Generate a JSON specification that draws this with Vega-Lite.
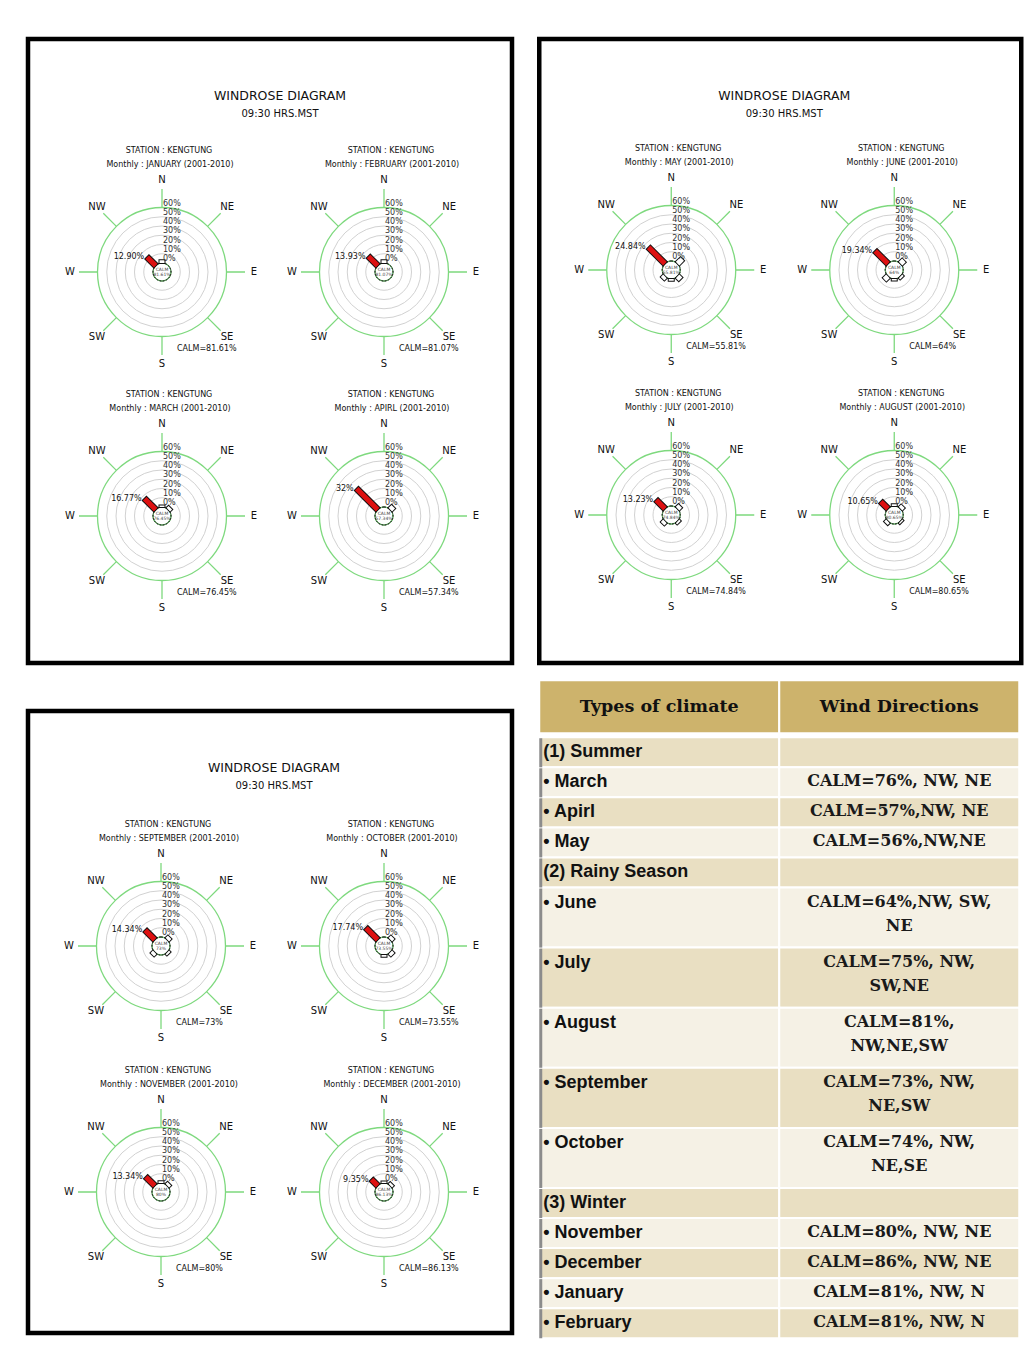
{
"$schema": "https://vega.github.io/schema/vega-lite/v6.json",
"padding": {"left": 25, "top": 36, "right": 0, "bottom": 0},
"background": "white",
"config": {"view": {"stroke": null}, "font": "DejaVu Sans"},
"datasets": {
"compass": [{"dir":"N","angle":0},{"dir":"NE","angle":45},{"dir":"E","angle":90},{"dir":"SE","angle":135},{"dir":"S","angle":180},{"dir":"SW","angle":225},{"dir":"W","angle":270},{"dir":"NW","angle":315}],
"roses": [
{"panel":1,"month":"JANUARY","title":"Monthly : JANUARY (2001-2010)","calm":"81.61%","calm_label":"CALM=81.61%","nw_label":"12.90%","N":0.03,"NE":0,"E":0,"SE":0,"S":0,"SW":0,"W":0,"NW":0.129,"rings":[0,0.1,0.2,0.3,0.4,0.5,0.6]},
{"panel":1,"month":"FEBRUARY","title":"Monthly : FEBRUARY (2001-2010)","calm":"81.07%","calm_label":"CALM=81.07%","nw_label":"13.93%","N":0.03,"NE":0,"E":0,"SE":0,"S":0,"SW":0,"W":0,"NW":0.1393,"rings":[0,0.1,0.2,0.3,0.4,0.5,0.6]},
{"panel":1,"month":"MARCH","title":"Monthly : MARCH (2001-2010)","calm":"76.45%","calm_label":"CALM=76.45%","nw_label":"16.77%","N":0.015,"NE":0.03,"E":0,"SE":0,"S":0,"SW":0,"W":0,"NW":0.1677,"rings":[0,0.1,0.2,0.3,0.4,0.5,0.6]},
{"panel":1,"month":"APRIL","title":"Monthly : APIRL (2001-2010)","calm":"57.34%","calm_label":"CALM=57.34%","nw_label":"32%","N":0,"NE":0.045,"E":0,"SE":0,"S":0,"SW":0,"W":0,"NW":0.32,"rings":[0,0.1,0.2,0.3,0.4,0.5,0.6]},
{"panel":2,"month":"MAY","title":"Monthly : MAY (2001-2010)","calm":"55.81%","calm_label":"CALM=55.81%","nw_label":"24.84%","N":0,"NE":0.07,"E":0,"SE":0.045,"S":0.02,"SW":0.035,"W":0,"NW":0.2484,"rings":[0,0.1,0.2,0.3,0.4,0.5,0.6]},
{"panel":2,"month":"JUNE","title":"Monthly : JUNE (2001-2010)","calm":"64%","calm_label":"CALM=64%","nw_label":"19.34%","N":0,"NE":0.05,"E":0,"SE":0.02,"S":0.015,"SW":0.05,"W":0,"NW":0.1934,"rings":[0,0.1,0.2,0.3,0.4,0.5,0.6]},
{"panel":2,"month":"JULY","title":"Monthly : JULY (2001-2010)","calm":"74.84%","calm_label":"CALM=74.84%","nw_label":"13.23%","N":0,"NE":0.04,"E":0,"SE":0.02,"S":0,"SW":0.035,"W":0,"NW":0.1323,"rings":[0,0.1,0.2,0.3,0.4,0.5,0.6]},
{"panel":2,"month":"AUGUST","title":"Monthly : AUGUST (2001-2010)","calm":"80.65%","calm_label":"CALM=80.65%","nw_label":"10.65%","N":0.02,"NE":0.035,"E":0,"SE":0.015,"S":0,"SW":0.03,"W":0,"NW":0.1065,"rings":[0,0.1,0.2,0.3,0.4,0.5,0.6]},
{"panel":3,"month":"SEPTEMBER","title":"Monthly : SEPTEMBER (2001-2010)","calm":"73%","calm_label":"CALM=73%","nw_label":"14.34%","N":0,"NE":0.035,"E":0,"SE":0.02,"S":0,"SW":0.035,"W":0,"NW":0.1434,"rings":[0,0.1,0.2,0.3,0.4,0.5,0.6]},
{"panel":3,"month":"OCTOBER","title":"Monthly : OCTOBER (2001-2010)","calm":"73.55%","calm_label":"CALM=73.55%","nw_label":"17.74%","N":0,"NE":0.035,"E":0,"SE":0.035,"S":0.02,"SW":0,"W":0,"NW":0.1774,"rings":[0,0.1,0.2,0.3,0.4,0.5,0.6]},
{"panel":3,"month":"NOVEMBER","title":"Monthly : NOVEMBER (2001-2010)","calm":"80%","calm_label":"CALM=80%","nw_label":"13.34%","N":0.02,"NE":0.03,"E":0,"SE":0,"S":0,"SW":0,"W":0,"NW":0.1334,"rings":[0,0.1,0.2,0.3,0.4,0.5,0.6]},
{"panel":3,"month":"DECEMBER","title":"Monthly : DECEMBER (2001-2010)","calm":"86.13%","calm_label":"CALM=86.13%","nw_label":"9.35%","N":0.015,"NE":0.025,"E":0,"SE":0,"S":0,"SW":0,"W":0,"NW":0.0935,"rings":[0,0.1,0.2,0.3,0.4,0.5,0.6]}
],
"table_header": [{"column":"climate","label":"Types of climate"},{"column":"wind","label":"Wind Directions"}],
"table": [
{"row":1,"climate":"(1) Summer","wind":"","lines":1},
{"row":2,"climate":"• March","wind":"CALM=76%, NW, NE","lines":1},
{"row":3,"climate":"• Apirl","wind":"CALM=57%,NW, NE","lines":1},
{"row":4,"climate":"• May","wind":"CALM=56%,NW,NE","lines":1},
{"row":5,"climate":"(2) Rainy Season","wind":"","lines":1},
{"row":6,"climate":"• June","wind":["CALM=64%,NW, SW,","NE"],"lines":2},
{"row":7,"climate":"• July","wind":["CALM=75%, NW,","SW,NE"],"lines":2},
{"row":8,"climate":"• August","wind":["CALM=81%,","NW,NE,SW"],"lines":2},
{"row":9,"climate":"• September","wind":["CALM=73%, NW,","NE,SW"],"lines":2},
{"row":10,"climate":"• October","wind":["CALM=74%, NW,","NE,SE"],"lines":2},
{"row":11,"climate":"(3) Winter","wind":"","lines":1},
{"row":12,"climate":"• November","wind":"CALM=80%, NW, NE","lines":1},
{"row":13,"climate":"• December","wind":"CALM=86%, NW, NE","lines":1},
{"row":14,"climate":"• January","wind":"CALM=81%, NW, N","lines":1},
{"row":15,"climate":"• February","wind":"CALM=81%, NW, N","lines":1}
]
},
"spacing": 21.25,
"hconcat": [
{"vconcat": [
{
"width": 484, "height": 624,
"view": {"stroke": "black", "strokeWidth": 4.5},
"title": {"text": "WINDROSE DIAGRAM", "subtitle": "09:30 HRS.MST", "anchor": "middle", "offset": -80, "dx": 10, "font": "DejaVu Sans", "fontSize": 12.5, "fontWeight": "normal", "color": "#111", "subtitleFont": "DejaVu Sans", "subtitleFontSize": 10, "subtitleColor": "#111", "subtitlePadding": 7},
"data": {"name": "roses"},
"transform": [{"filter": "datum.panel === 1"}],
"resolve": {"scale": {"x": "independent", "y": "independent"}},
"layer": [
{"transform": [{"filter": {"field": "month", "oneOf": ["JANUARY","FEBRUARY"]}}],
"encoding": {"x": {"field": "month", "type": "nominal", "axis": null, "scale": {"type": "point", "padding": 0, "domain": ["JANUARY","FEBRUARY"], "range": [134, 356]}}, "y": {"field": "month", "type": "nominal", "axis": null, "scale": {"type": "point", "padding": 0, "domain": ["JANUARY","FEBRUARY"], "range": [233, 233]}}},
"layer": [
{"transform": [{"flatten": ["rings"], "as": ["ring"]}, {"filter": "datum.ring > 0 && datum.ring < 0.6"}], "mark": {"type": "arc", "filled": false, "stroke": "#cccccc", "strokeWidth": 0.9, "theta": 0, "theta2": 6.2832}, "encoding": {"radius": {"field": "ring", "type": "quantitative", "stack": null, "scale": {"type": "linear", "domain": [0, 0.6], "range": [9, 64.5]}}}},
{"transform": [{"flatten": ["rings"], "as": ["ring"]}, {"filter": "datum.ring === 0.6"}], "mark": {"type": "arc", "filled": false, "stroke": "#7ed97e", "strokeWidth": 1.3, "theta": 0, "theta2": 6.2832}, "encoding": {"radius": {"field": "ring", "type": "quantitative", "stack": null, "scale": {"type": "linear", "domain": [0, 0.6], "range": [9, 64.5]}}}},
{"transform": [{"fold": ["N","NE","E","SE","S","SW","W","NW"], "as": ["dir","pct"]}, {"lookup": "dir", "from": {"data": {"name": "compass"}, "key": "dir", "fields": ["angle"]}}], "mark": {"type": "arc", "filled": false, "stroke": "#7ed97e", "strokeWidth": 1.3, "radius": 83, "radius2": 64.5}, "encoding": {"theta": {"field": "angle", "type": "quantitative", "stack": null, "scale": {"type": "linear", "domain": [0, 360], "range": [0, 6.283185]}}, "theta2": {"field": "angle"}}},
{"transform": [{"flatten": ["rings"], "as": ["ring"]}, {"filter": "datum.ring === 0"}], "mark": {"type": "arc", "filled": false, "stroke": "#222222", "strokeWidth": 0.8, "strokeDash": [2, 1.2], "theta": 0, "theta2": 6.2832}, "encoding": {"radius": {"field": "ring", "type": "quantitative", "stack": null, "scale": {"type": "linear", "domain": [0, 0.6], "range": [9, 64.5]}}}},
{"transform": [{"fold": ["N","NE","E","SE","S","SW","W","NW"], "as": ["dir","pct"]}, {"lookup": "dir", "from": {"data": {"name": "compass"}, "key": "dir", "fields": ["angle"]}}, {"filter": "datum.pct > 0"}], "mark": {"type": "arc", "filled": false, "stroke": "#111111", "strokeWidth": 7, "radiusOffset": 1, "radius2Offset": -1}, "encoding": {"theta": {"field": "angle", "type": "quantitative", "stack": null, "scale": {"type": "linear", "domain": [0, 360], "range": [0, 6.283185]}}, "theta2": {"field": "angle"}, "radius": {"field": "pct", "type": "quantitative", "stack": null, "scale": {"type": "linear", "domain": [0, 0.6], "range": [9, 64.5]}}, "radius2": {"datum": 0}}},
{"transform": [{"fold": ["N","NE","E","SE","S","SW","W","NW"], "as": ["dir","pct"]}, {"lookup": "dir", "from": {"data": {"name": "compass"}, "key": "dir", "fields": ["angle"]}}, {"filter": "datum.pct > 0"}], "mark": {"type": "arc", "filled": false, "strokeWidth": 5}, "encoding": {"theta": {"field": "angle", "type": "quantitative", "stack": null, "scale": {"type": "linear", "domain": [0, 360], "range": [0, 6.283185]}}, "theta2": {"field": "angle"}, "radius": {"field": "pct", "type": "quantitative", "stack": null, "scale": {"type": "linear", "domain": [0, 0.6], "range": [9, 64.5]}}, "radius2": {"datum": 0}, "stroke": {"condition": {"test": "datum.dir === 'NW'", "value": "#dd1111"}, "value": "#ffffff"}}},
{"transform": [{"flatten": ["rings"], "as": ["ring"]}], "mark": {"type": "text", "theta": 0, "align": "left", "baseline": "bottom", "dx": 1, "fontSize": 8, "font": "DejaVu Sans", "color": "#333333"}, "encoding": {"radius": {"field": "ring", "type": "quantitative", "stack": null, "scale": {"type": "linear", "domain": [0, 0.6], "range": [9, 64.5]}}, "text": {"field": "ring", "type": "quantitative", "format": ".0%"}}},
{"transform": [{"fold": ["N","NE","E","SE","S","SW","W","NW"], "as": ["dir","pct"]}, {"lookup": "dir", "from": {"data": {"name": "compass"}, "key": "dir", "fields": ["angle"]}}], "mark": {"type": "text", "radius": 92, "align": "center", "baseline": "middle", "fontSize": 10, "font": "DejaVu Sans", "color": "#111111"}, "encoding": {"theta": {"field": "angle", "type": "quantitative", "stack": null, "scale": {"type": "linear", "domain": [0, 360], "range": [0, 6.283185]}}, "text": {"field": "dir"}}},
{"transform": [{"fold": ["N","NE","E","SE","S","SW","W","NW"], "as": ["dir","pct"]}, {"lookup": "dir", "from": {"data": {"name": "compass"}, "key": "dir", "fields": ["angle"]}}, {"filter": "datum.dir === 'NW'"}], "mark": {"type": "text", "align": "right", "baseline": "middle", "dx": -3, "dy": 0, "fontSize": 8, "font": "DejaVu Sans", "color": "#111111"}, "encoding": {"theta": {"field": "angle", "type": "quantitative", "stack": null, "scale": {"type": "linear", "domain": [0, 360], "range": [0, 6.283185]}}, "radius": {"field": "pct", "type": "quantitative", "stack": null, "scale": {"type": "linear", "domain": [0, 0.6], "range": [9, 64.5]}}, "text": {"field": "nw_label"}}},
{"mark": {"type": "text", "text": "STATION : KENGTUNG", "dx": 7, "dy": -121, "fontSize": 8, "font": "DejaVu Sans", "color": "#111111"}},
{"mark": {"type": "text", "dx": 8, "dy": -107, "fontSize": 8, "font": "DejaVu Sans", "color": "#111111"}, "encoding": {"text": {"field": "title"}}},
{"mark": {"type": "text", "align": "left", "dx": 15, "dy": 77, "fontSize": 8, "font": "DejaVu Sans", "color": "#111111"}, "encoding": {"text": {"field": "calm_label"}}},
{"mark": {"type": "text", "text": "CALM", "dy": -2, "fontSize": 4.5, "font": "DejaVu Sans", "color": "#444444"}},
{"mark": {"type": "text", "dy": 3, "fontSize": 4.5, "font": "DejaVu Sans", "color": "#444444"}, "encoding": {"text": {"field": "calm"}}}
]},
{"transform": [{"filter": {"field": "month", "oneOf": ["MARCH","APRIL"]}}],
"encoding": {"x": {"field": "month", "type": "nominal", "axis": null, "scale": {"type": "point", "padding": 0, "domain": ["MARCH","APRIL"], "range": [134, 356]}}, "y": {"field": "month", "type": "nominal", "axis": null, "scale": {"type": "point", "padding": 0, "domain": ["MARCH","APRIL"], "range": [477, 477]}}},
"layer": [
{"transform": [{"flatten": ["rings"], "as": ["ring"]}, {"filter": "datum.ring > 0 && datum.ring < 0.6"}], "mark": {"type": "arc", "filled": false, "stroke": "#cccccc", "strokeWidth": 0.9, "theta": 0, "theta2": 6.2832}, "encoding": {"radius": {"field": "ring", "type": "quantitative", "stack": null, "scale": {"type": "linear", "domain": [0, 0.6], "range": [9, 64.5]}}}},
{"transform": [{"flatten": ["rings"], "as": ["ring"]}, {"filter": "datum.ring === 0.6"}], "mark": {"type": "arc", "filled": false, "stroke": "#7ed97e", "strokeWidth": 1.3, "theta": 0, "theta2": 6.2832}, "encoding": {"radius": {"field": "ring", "type": "quantitative", "stack": null, "scale": {"type": "linear", "domain": [0, 0.6], "range": [9, 64.5]}}}},
{"transform": [{"fold": ["N","NE","E","SE","S","SW","W","NW"], "as": ["dir","pct"]}, {"lookup": "dir", "from": {"data": {"name": "compass"}, "key": "dir", "fields": ["angle"]}}], "mark": {"type": "arc", "filled": false, "stroke": "#7ed97e", "strokeWidth": 1.3, "radius": 83, "radius2": 64.5}, "encoding": {"theta": {"field": "angle", "type": "quantitative", "stack": null, "scale": {"type": "linear", "domain": [0, 360], "range": [0, 6.283185]}}, "theta2": {"field": "angle"}}},
{"transform": [{"flatten": ["rings"], "as": ["ring"]}, {"filter": "datum.ring === 0"}], "mark": {"type": "arc", "filled": false, "stroke": "#222222", "strokeWidth": 0.8, "strokeDash": [2, 1.2], "theta": 0, "theta2": 6.2832}, "encoding": {"radius": {"field": "ring", "type": "quantitative", "stack": null, "scale": {"type": "linear", "domain": [0, 0.6], "range": [9, 64.5]}}}},
{"transform": [{"fold": ["N","NE","E","SE","S","SW","W","NW"], "as": ["dir","pct"]}, {"lookup": "dir", "from": {"data": {"name": "compass"}, "key": "dir", "fields": ["angle"]}}, {"filter": "datum.pct > 0"}], "mark": {"type": "arc", "filled": false, "stroke": "#111111", "strokeWidth": 7, "radiusOffset": 1, "radius2Offset": -1}, "encoding": {"theta": {"field": "angle", "type": "quantitative", "stack": null, "scale": {"type": "linear", "domain": [0, 360], "range": [0, 6.283185]}}, "theta2": {"field": "angle"}, "radius": {"field": "pct", "type": "quantitative", "stack": null, "scale": {"type": "linear", "domain": [0, 0.6], "range": [9, 64.5]}}, "radius2": {"datum": 0}}},
{"transform": [{"fold": ["N","NE","E","SE","S","SW","W","NW"], "as": ["dir","pct"]}, {"lookup": "dir", "from": {"data": {"name": "compass"}, "key": "dir", "fields": ["angle"]}}, {"filter": "datum.pct > 0"}], "mark": {"type": "arc", "filled": false, "strokeWidth": 5}, "encoding": {"theta": {"field": "angle", "type": "quantitative", "stack": null, "scale": {"type": "linear", "domain": [0, 360], "range": [0, 6.283185]}}, "theta2": {"field": "angle"}, "radius": {"field": "pct", "type": "quantitative", "stack": null, "scale": {"type": "linear", "domain": [0, 0.6], "range": [9, 64.5]}}, "radius2": {"datum": 0}, "stroke": {"condition": {"test": "datum.dir === 'NW'", "value": "#dd1111"}, "value": "#ffffff"}}},
{"transform": [{"flatten": ["rings"], "as": ["ring"]}], "mark": {"type": "text", "theta": 0, "align": "left", "baseline": "bottom", "dx": 1, "fontSize": 8, "font": "DejaVu Sans", "color": "#333333"}, "encoding": {"radius": {"field": "ring", "type": "quantitative", "stack": null, "scale": {"type": "linear", "domain": [0, 0.6], "range": [9, 64.5]}}, "text": {"field": "ring", "type": "quantitative", "format": ".0%"}}},
{"transform": [{"fold": ["N","NE","E","SE","S","SW","W","NW"], "as": ["dir","pct"]}, {"lookup": "dir", "from": {"data": {"name": "compass"}, "key": "dir", "fields": ["angle"]}}], "mark": {"type": "text", "radius": 92, "align": "center", "baseline": "middle", "fontSize": 10, "font": "DejaVu Sans", "color": "#111111"}, "encoding": {"theta": {"field": "angle", "type": "quantitative", "stack": null, "scale": {"type": "linear", "domain": [0, 360], "range": [0, 6.283185]}}, "text": {"field": "dir"}}},
{"transform": [{"fold": ["N","NE","E","SE","S","SW","W","NW"], "as": ["dir","pct"]}, {"lookup": "dir", "from": {"data": {"name": "compass"}, "key": "dir", "fields": ["angle"]}}, {"filter": "datum.dir === 'NW'"}], "mark": {"type": "text", "align": "right", "baseline": "middle", "dx": -3, "dy": 0, "fontSize": 8, "font": "DejaVu Sans", "color": "#111111"}, "encoding": {"theta": {"field": "angle", "type": "quantitative", "stack": null, "scale": {"type": "linear", "domain": [0, 360], "range": [0, 6.283185]}}, "radius": {"field": "pct", "type": "quantitative", "stack": null, "scale": {"type": "linear", "domain": [0, 0.6], "range": [9, 64.5]}}, "text": {"field": "nw_label"}}},
{"mark": {"type": "text", "text": "STATION : KENGTUNG", "dx": 7, "dy": -121, "fontSize": 8, "font": "DejaVu Sans", "color": "#111111"}},
{"mark": {"type": "text", "dx": 8, "dy": -107, "fontSize": 8, "font": "DejaVu Sans", "color": "#111111"}, "encoding": {"text": {"field": "title"}}},
{"mark": {"type": "text", "align": "left", "dx": 15, "dy": 77, "fontSize": 8, "font": "DejaVu Sans", "color": "#111111"}, "encoding": {"text": {"field": "calm_label"}}},
{"mark": {"type": "text", "text": "CALM", "dy": -2, "fontSize": 4.5, "font": "DejaVu Sans", "color": "#444444"}},
{"mark": {"type": "text", "dy": 3, "fontSize": 4.5, "font": "DejaVu Sans", "color": "#444444"}, "encoding": {"text": {"field": "calm"}}}
]}
]
},
{
"width": 484, "height": 622,
"view": {"stroke": "black", "strokeWidth": 4.5},
"title": {"text": "WINDROSE DIAGRAM", "subtitle": "09:30 HRS.MST", "anchor": "middle", "offset": -80, "dx": 4, "font": "DejaVu Sans", "fontSize": 12.5, "fontWeight": "normal", "color": "#111", "subtitleFont": "DejaVu Sans", "subtitleFontSize": 10, "subtitleColor": "#111", "subtitlePadding": 7},
"data": {"name": "roses"},
"transform": [{"filter": "datum.panel === 3"}],
"resolve": {"scale": {"x": "independent", "y": "independent"}},
"layer": [
{"transform": [{"filter": {"field": "month", "oneOf": ["SEPTEMBER","OCTOBER"]}}],
"encoding": {"x": {"field": "month", "type": "nominal", "axis": null, "scale": {"type": "point", "padding": 0, "domain": ["SEPTEMBER","OCTOBER"], "range": [133, 356]}}, "y": {"field": "month", "type": "nominal", "axis": null, "scale": {"type": "point", "padding": 0, "domain": ["SEPTEMBER","OCTOBER"], "range": [235, 235]}}},
"layer": [
{"transform": [{"flatten": ["rings"], "as": ["ring"]}, {"filter": "datum.ring > 0 && datum.ring < 0.6"}], "mark": {"type": "arc", "filled": false, "stroke": "#cccccc", "strokeWidth": 0.9, "theta": 0, "theta2": 6.2832}, "encoding": {"radius": {"field": "ring", "type": "quantitative", "stack": null, "scale": {"type": "linear", "domain": [0, 0.6], "range": [9, 64.5]}}}},
{"transform": [{"flatten": ["rings"], "as": ["ring"]}, {"filter": "datum.ring === 0.6"}], "mark": {"type": "arc", "filled": false, "stroke": "#7ed97e", "strokeWidth": 1.3, "theta": 0, "theta2": 6.2832}, "encoding": {"radius": {"field": "ring", "type": "quantitative", "stack": null, "scale": {"type": "linear", "domain": [0, 0.6], "range": [9, 64.5]}}}},
{"transform": [{"fold": ["N","NE","E","SE","S","SW","W","NW"], "as": ["dir","pct"]}, {"lookup": "dir", "from": {"data": {"name": "compass"}, "key": "dir", "fields": ["angle"]}}], "mark": {"type": "arc", "filled": false, "stroke": "#7ed97e", "strokeWidth": 1.3, "radius": 83, "radius2": 64.5}, "encoding": {"theta": {"field": "angle", "type": "quantitative", "stack": null, "scale": {"type": "linear", "domain": [0, 360], "range": [0, 6.283185]}}, "theta2": {"field": "angle"}}},
{"transform": [{"flatten": ["rings"], "as": ["ring"]}, {"filter": "datum.ring === 0"}], "mark": {"type": "arc", "filled": false, "stroke": "#222222", "strokeWidth": 0.8, "strokeDash": [2, 1.2], "theta": 0, "theta2": 6.2832}, "encoding": {"radius": {"field": "ring", "type": "quantitative", "stack": null, "scale": {"type": "linear", "domain": [0, 0.6], "range": [9, 64.5]}}}},
{"transform": [{"fold": ["N","NE","E","SE","S","SW","W","NW"], "as": ["dir","pct"]}, {"lookup": "dir", "from": {"data": {"name": "compass"}, "key": "dir", "fields": ["angle"]}}, {"filter": "datum.pct > 0"}], "mark": {"type": "arc", "filled": false, "stroke": "#111111", "strokeWidth": 7, "radiusOffset": 1, "radius2Offset": -1}, "encoding": {"theta": {"field": "angle", "type": "quantitative", "stack": null, "scale": {"type": "linear", "domain": [0, 360], "range": [0, 6.283185]}}, "theta2": {"field": "angle"}, "radius": {"field": "pct", "type": "quantitative", "stack": null, "scale": {"type": "linear", "domain": [0, 0.6], "range": [9, 64.5]}}, "radius2": {"datum": 0}}},
{"transform": [{"fold": ["N","NE","E","SE","S","SW","W","NW"], "as": ["dir","pct"]}, {"lookup": "dir", "from": {"data": {"name": "compass"}, "key": "dir", "fields": ["angle"]}}, {"filter": "datum.pct > 0"}], "mark": {"type": "arc", "filled": false, "strokeWidth": 5}, "encoding": {"theta": {"field": "angle", "type": "quantitative", "stack": null, "scale": {"type": "linear", "domain": [0, 360], "range": [0, 6.283185]}}, "theta2": {"field": "angle"}, "radius": {"field": "pct", "type": "quantitative", "stack": null, "scale": {"type": "linear", "domain": [0, 0.6], "range": [9, 64.5]}}, "radius2": {"datum": 0}, "stroke": {"condition": {"test": "datum.dir === 'NW'", "value": "#dd1111"}, "value": "#ffffff"}}},
{"transform": [{"flatten": ["rings"], "as": ["ring"]}], "mark": {"type": "text", "theta": 0, "align": "left", "baseline": "bottom", "dx": 1, "fontSize": 8, "font": "DejaVu Sans", "color": "#333333"}, "encoding": {"radius": {"field": "ring", "type": "quantitative", "stack": null, "scale": {"type": "linear", "domain": [0, 0.6], "range": [9, 64.5]}}, "text": {"field": "ring", "type": "quantitative", "format": ".0%"}}},
{"transform": [{"fold": ["N","NE","E","SE","S","SW","W","NW"], "as": ["dir","pct"]}, {"lookup": "dir", "from": {"data": {"name": "compass"}, "key": "dir", "fields": ["angle"]}}], "mark": {"type": "text", "radius": 92, "align": "center", "baseline": "middle", "fontSize": 10, "font": "DejaVu Sans", "color": "#111111"}, "encoding": {"theta": {"field": "angle", "type": "quantitative", "stack": null, "scale": {"type": "linear", "domain": [0, 360], "range": [0, 6.283185]}}, "text": {"field": "dir"}}},
{"transform": [{"fold": ["N","NE","E","SE","S","SW","W","NW"], "as": ["dir","pct"]}, {"lookup": "dir", "from": {"data": {"name": "compass"}, "key": "dir", "fields": ["angle"]}}, {"filter": "datum.dir === 'NW'"}], "mark": {"type": "text", "align": "right", "baseline": "middle", "dx": -3, "dy": 0, "fontSize": 8, "font": "DejaVu Sans", "color": "#111111"}, "encoding": {"theta": {"field": "angle", "type": "quantitative", "stack": null, "scale": {"type": "linear", "domain": [0, 360], "range": [0, 6.283185]}}, "radius": {"field": "pct", "type": "quantitative", "stack": null, "scale": {"type": "linear", "domain": [0, 0.6], "range": [9, 64.5]}}, "text": {"field": "nw_label"}}},
{"mark": {"type": "text", "text": "STATION : KENGTUNG", "dx": 7, "dy": -121, "fontSize": 8, "font": "DejaVu Sans", "color": "#111111"}},
{"mark": {"type": "text", "dx": 8, "dy": -107, "fontSize": 8, "font": "DejaVu Sans", "color": "#111111"}, "encoding": {"text": {"field": "title"}}},
{"mark": {"type": "text", "align": "left", "dx": 15, "dy": 77, "fontSize": 8, "font": "DejaVu Sans", "color": "#111111"}, "encoding": {"text": {"field": "calm_label"}}},
{"mark": {"type": "text", "text": "CALM", "dy": -2, "fontSize": 4.5, "font": "DejaVu Sans", "color": "#444444"}},
{"mark": {"type": "text", "dy": 3, "fontSize": 4.5, "font": "DejaVu Sans", "color": "#444444"}, "encoding": {"text": {"field": "calm"}}}
]},
{"transform": [{"filter": {"field": "month", "oneOf": ["NOVEMBER","DECEMBER"]}}],
"encoding": {"x": {"field": "month", "type": "nominal", "axis": null, "scale": {"type": "point", "padding": 0, "domain": ["NOVEMBER","DECEMBER"], "range": [133, 356]}}, "y": {"field": "month", "type": "nominal", "axis": null, "scale": {"type": "point", "padding": 0, "domain": ["NOVEMBER","DECEMBER"], "range": [481, 481]}}},
"layer": [
{"transform": [{"flatten": ["rings"], "as": ["ring"]}, {"filter": "datum.ring > 0 && datum.ring < 0.6"}], "mark": {"type": "arc", "filled": false, "stroke": "#cccccc", "strokeWidth": 0.9, "theta": 0, "theta2": 6.2832}, "encoding": {"radius": {"field": "ring", "type": "quantitative", "stack": null, "scale": {"type": "linear", "domain": [0, 0.6], "range": [9, 64.5]}}}},
{"transform": [{"flatten": ["rings"], "as": ["ring"]}, {"filter": "datum.ring === 0.6"}], "mark": {"type": "arc", "filled": false, "stroke": "#7ed97e", "strokeWidth": 1.3, "theta": 0, "theta2": 6.2832}, "encoding": {"radius": {"field": "ring", "type": "quantitative", "stack": null, "scale": {"type": "linear", "domain": [0, 0.6], "range": [9, 64.5]}}}},
{"transform": [{"fold": ["N","NE","E","SE","S","SW","W","NW"], "as": ["dir","pct"]}, {"lookup": "dir", "from": {"data": {"name": "compass"}, "key": "dir", "fields": ["angle"]}}], "mark": {"type": "arc", "filled": false, "stroke": "#7ed97e", "strokeWidth": 1.3, "radius": 83, "radius2": 64.5}, "encoding": {"theta": {"field": "angle", "type": "quantitative", "stack": null, "scale": {"type": "linear", "domain": [0, 360], "range": [0, 6.283185]}}, "theta2": {"field": "angle"}}},
{"transform": [{"flatten": ["rings"], "as": ["ring"]}, {"filter": "datum.ring === 0"}], "mark": {"type": "arc", "filled": false, "stroke": "#222222", "strokeWidth": 0.8, "strokeDash": [2, 1.2], "theta": 0, "theta2": 6.2832}, "encoding": {"radius": {"field": "ring", "type": "quantitative", "stack": null, "scale": {"type": "linear", "domain": [0, 0.6], "range": [9, 64.5]}}}},
{"transform": [{"fold": ["N","NE","E","SE","S","SW","W","NW"], "as": ["dir","pct"]}, {"lookup": "dir", "from": {"data": {"name": "compass"}, "key": "dir", "fields": ["angle"]}}, {"filter": "datum.pct > 0"}], "mark": {"type": "arc", "filled": false, "stroke": "#111111", "strokeWidth": 7, "radiusOffset": 1, "radius2Offset": -1}, "encoding": {"theta": {"field": "angle", "type": "quantitative", "stack": null, "scale": {"type": "linear", "domain": [0, 360], "range": [0, 6.283185]}}, "theta2": {"field": "angle"}, "radius": {"field": "pct", "type": "quantitative", "stack": null, "scale": {"type": "linear", "domain": [0, 0.6], "range": [9, 64.5]}}, "radius2": {"datum": 0}}},
{"transform": [{"fold": ["N","NE","E","SE","S","SW","W","NW"], "as": ["dir","pct"]}, {"lookup": "dir", "from": {"data": {"name": "compass"}, "key": "dir", "fields": ["angle"]}}, {"filter": "datum.pct > 0"}], "mark": {"type": "arc", "filled": false, "strokeWidth": 5}, "encoding": {"theta": {"field": "angle", "type": "quantitative", "stack": null, "scale": {"type": "linear", "domain": [0, 360], "range": [0, 6.283185]}}, "theta2": {"field": "angle"}, "radius": {"field": "pct", "type": "quantitative", "stack": null, "scale": {"type": "linear", "domain": [0, 0.6], "range": [9, 64.5]}}, "radius2": {"datum": 0}, "stroke": {"condition": {"test": "datum.dir === 'NW'", "value": "#dd1111"}, "value": "#ffffff"}}},
{"transform": [{"flatten": ["rings"], "as": ["ring"]}], "mark": {"type": "text", "theta": 0, "align": "left", "baseline": "bottom", "dx": 1, "fontSize": 8, "font": "DejaVu Sans", "color": "#333333"}, "encoding": {"radius": {"field": "ring", "type": "quantitative", "stack": null, "scale": {"type": "linear", "domain": [0, 0.6], "range": [9, 64.5]}}, "text": {"field": "ring", "type": "quantitative", "format": ".0%"}}},
{"transform": [{"fold": ["N","NE","E","SE","S","SW","W","NW"], "as": ["dir","pct"]}, {"lookup": "dir", "from": {"data": {"name": "compass"}, "key": "dir", "fields": ["angle"]}}], "mark": {"type": "text", "radius": 92, "align": "center", "baseline": "middle", "fontSize": 10, "font": "DejaVu Sans", "color": "#111111"}, "encoding": {"theta": {"field": "angle", "type": "quantitative", "stack": null, "scale": {"type": "linear", "domain": [0, 360], "range": [0, 6.283185]}}, "text": {"field": "dir"}}},
{"transform": [{"fold": ["N","NE","E","SE","S","SW","W","NW"], "as": ["dir","pct"]}, {"lookup": "dir", "from": {"data": {"name": "compass"}, "key": "dir", "fields": ["angle"]}}, {"filter": "datum.dir === 'NW'"}], "mark": {"type": "text", "align": "right", "baseline": "middle", "dx": -3, "dy": 0, "fontSize": 8, "font": "DejaVu Sans", "color": "#111111"}, "encoding": {"theta": {"field": "angle", "type": "quantitative", "stack": null, "scale": {"type": "linear", "domain": [0, 360], "range": [0, 6.283185]}}, "radius": {"field": "pct", "type": "quantitative", "stack": null, "scale": {"type": "linear", "domain": [0, 0.6], "range": [9, 64.5]}}, "text": {"field": "nw_label"}}},
{"mark": {"type": "text", "text": "STATION : KENGTUNG", "dx": 7, "dy": -121, "fontSize": 8, "font": "DejaVu Sans", "color": "#111111"}},
{"mark": {"type": "text", "dx": 8, "dy": -107, "fontSize": 8, "font": "DejaVu Sans", "color": "#111111"}, "encoding": {"text": {"field": "title"}}},
{"mark": {"type": "text", "align": "left", "dx": 15, "dy": 77, "fontSize": 8, "font": "DejaVu Sans", "color": "#111111"}, "encoding": {"text": {"field": "calm_label"}}},
{"mark": {"type": "text", "text": "CALM", "dy": -2, "fontSize": 4.5, "font": "DejaVu Sans", "color": "#444444"}},
{"mark": {"type": "text", "dy": 3, "fontSize": 4.5, "font": "DejaVu Sans", "color": "#444444"}, "encoding": {"text": {"field": "calm"}}}
]}
]
}
], "spacing": 42},
{"vconcat": [
{
"width": 482, "height": 624,
"view": {"stroke": "black", "strokeWidth": 4.5},
"title": {"text": "WINDROSE DIAGRAM", "subtitle": "09:30 HRS.MST", "anchor": "middle", "offset": -80, "dx": 4, "font": "DejaVu Sans", "fontSize": 12.5, "fontWeight": "normal", "color": "#111", "subtitleFont": "DejaVu Sans", "subtitleFontSize": 10, "subtitleColor": "#111", "subtitlePadding": 7},
"data": {"name": "roses"},
"transform": [{"filter": "datum.panel === 2"}],
"resolve": {"scale": {"x": "independent", "y": "independent"}},
"layer": [
{"transform": [{"filter": {"field": "month", "oneOf": ["MAY","JUNE"]}}],
"encoding": {"x": {"field": "month", "type": "nominal", "axis": null, "scale": {"type": "point", "padding": 0, "domain": ["MAY","JUNE"], "range": [132, 355]}}, "y": {"field": "month", "type": "nominal", "axis": null, "scale": {"type": "point", "padding": 0, "domain": ["MAY","JUNE"], "range": [231, 231]}}},
"layer": [
{"transform": [{"flatten": ["rings"], "as": ["ring"]}, {"filter": "datum.ring > 0 && datum.ring < 0.6"}], "mark": {"type": "arc", "filled": false, "stroke": "#cccccc", "strokeWidth": 0.9, "theta": 0, "theta2": 6.2832}, "encoding": {"radius": {"field": "ring", "type": "quantitative", "stack": null, "scale": {"type": "linear", "domain": [0, 0.6], "range": [9, 64.5]}}}},
{"transform": [{"flatten": ["rings"], "as": ["ring"]}, {"filter": "datum.ring === 0.6"}], "mark": {"type": "arc", "filled": false, "stroke": "#7ed97e", "strokeWidth": 1.3, "theta": 0, "theta2": 6.2832}, "encoding": {"radius": {"field": "ring", "type": "quantitative", "stack": null, "scale": {"type": "linear", "domain": [0, 0.6], "range": [9, 64.5]}}}},
{"transform": [{"fold": ["N","NE","E","SE","S","SW","W","NW"], "as": ["dir","pct"]}, {"lookup": "dir", "from": {"data": {"name": "compass"}, "key": "dir", "fields": ["angle"]}}], "mark": {"type": "arc", "filled": false, "stroke": "#7ed97e", "strokeWidth": 1.3, "radius": 83, "radius2": 64.5}, "encoding": {"theta": {"field": "angle", "type": "quantitative", "stack": null, "scale": {"type": "linear", "domain": [0, 360], "range": [0, 6.283185]}}, "theta2": {"field": "angle"}}},
{"transform": [{"flatten": ["rings"], "as": ["ring"]}, {"filter": "datum.ring === 0"}], "mark": {"type": "arc", "filled": false, "stroke": "#222222", "strokeWidth": 0.8, "strokeDash": [2, 1.2], "theta": 0, "theta2": 6.2832}, "encoding": {"radius": {"field": "ring", "type": "quantitative", "stack": null, "scale": {"type": "linear", "domain": [0, 0.6], "range": [9, 64.5]}}}},
{"transform": [{"fold": ["N","NE","E","SE","S","SW","W","NW"], "as": ["dir","pct"]}, {"lookup": "dir", "from": {"data": {"name": "compass"}, "key": "dir", "fields": ["angle"]}}, {"filter": "datum.pct > 0"}], "mark": {"type": "arc", "filled": false, "stroke": "#111111", "strokeWidth": 7, "radiusOffset": 1, "radius2Offset": -1}, "encoding": {"theta": {"field": "angle", "type": "quantitative", "stack": null, "scale": {"type": "linear", "domain": [0, 360], "range": [0, 6.283185]}}, "theta2": {"field": "angle"}, "radius": {"field": "pct", "type": "quantitative", "stack": null, "scale": {"type": "linear", "domain": [0, 0.6], "range": [9, 64.5]}}, "radius2": {"datum": 0}}},
{"transform": [{"fold": ["N","NE","E","SE","S","SW","W","NW"], "as": ["dir","pct"]}, {"lookup": "dir", "from": {"data": {"name": "compass"}, "key": "dir", "fields": ["angle"]}}, {"filter": "datum.pct > 0"}], "mark": {"type": "arc", "filled": false, "strokeWidth": 5}, "encoding": {"theta": {"field": "angle", "type": "quantitative", "stack": null, "scale": {"type": "linear", "domain": [0, 360], "range": [0, 6.283185]}}, "theta2": {"field": "angle"}, "radius": {"field": "pct", "type": "quantitative", "stack": null, "scale": {"type": "linear", "domain": [0, 0.6], "range": [9, 64.5]}}, "radius2": {"datum": 0}, "stroke": {"condition": {"test": "datum.dir === 'NW'", "value": "#dd1111"}, "value": "#ffffff"}}},
{"transform": [{"flatten": ["rings"], "as": ["ring"]}], "mark": {"type": "text", "theta": 0, "align": "left", "baseline": "bottom", "dx": 1, "fontSize": 8, "font": "DejaVu Sans", "color": "#333333"}, "encoding": {"radius": {"field": "ring", "type": "quantitative", "stack": null, "scale": {"type": "linear", "domain": [0, 0.6], "range": [9, 64.5]}}, "text": {"field": "ring", "type": "quantitative", "format": ".0%"}}},
{"transform": [{"fold": ["N","NE","E","SE","S","SW","W","NW"], "as": ["dir","pct"]}, {"lookup": "dir", "from": {"data": {"name": "compass"}, "key": "dir", "fields": ["angle"]}}], "mark": {"type": "text", "radius": 92, "align": "center", "baseline": "middle", "fontSize": 10, "font": "DejaVu Sans", "color": "#111111"}, "encoding": {"theta": {"field": "angle", "type": "quantitative", "stack": null, "scale": {"type": "linear", "domain": [0, 360], "range": [0, 6.283185]}}, "text": {"field": "dir"}}},
{"transform": [{"fold": ["N","NE","E","SE","S","SW","W","NW"], "as": ["dir","pct"]}, {"lookup": "dir", "from": {"data": {"name": "compass"}, "key": "dir", "fields": ["angle"]}}, {"filter": "datum.dir === 'NW'"}], "mark": {"type": "text", "align": "right", "baseline": "middle", "dx": -3, "dy": 0, "fontSize": 8, "font": "DejaVu Sans", "color": "#111111"}, "encoding": {"theta": {"field": "angle", "type": "quantitative", "stack": null, "scale": {"type": "linear", "domain": [0, 360], "range": [0, 6.283185]}}, "radius": {"field": "pct", "type": "quantitative", "stack": null, "scale": {"type": "linear", "domain": [0, 0.6], "range": [9, 64.5]}}, "text": {"field": "nw_label"}}},
{"mark": {"type": "text", "text": "STATION : KENGTUNG", "dx": 7, "dy": -121, "fontSize": 8, "font": "DejaVu Sans", "color": "#111111"}},
{"mark": {"type": "text", "dx": 8, "dy": -107, "fontSize": 8, "font": "DejaVu Sans", "color": "#111111"}, "encoding": {"text": {"field": "title"}}},
{"mark": {"type": "text", "align": "left", "dx": 15, "dy": 77, "fontSize": 8, "font": "DejaVu Sans", "color": "#111111"}, "encoding": {"text": {"field": "calm_label"}}},
{"mark": {"type": "text", "text": "CALM", "dy": -2, "fontSize": 4.5, "font": "DejaVu Sans", "color": "#444444"}},
{"mark": {"type": "text", "dy": 3, "fontSize": 4.5, "font": "DejaVu Sans", "color": "#444444"}, "encoding": {"text": {"field": "calm"}}}
]},
{"transform": [{"filter": {"field": "month", "oneOf": ["JULY","AUGUST"]}}],
"encoding": {"x": {"field": "month", "type": "nominal", "axis": null, "scale": {"type": "point", "padding": 0, "domain": ["JULY","AUGUST"], "range": [132, 355]}}, "y": {"field": "month", "type": "nominal", "axis": null, "scale": {"type": "point", "padding": 0, "domain": ["JULY","AUGUST"], "range": [476, 476]}}},
"layer": [
{"transform": [{"flatten": ["rings"], "as": ["ring"]}, {"filter": "datum.ring > 0 && datum.ring < 0.6"}], "mark": {"type": "arc", "filled": false, "stroke": "#cccccc", "strokeWidth": 0.9, "theta": 0, "theta2": 6.2832}, "encoding": {"radius": {"field": "ring", "type": "quantitative", "stack": null, "scale": {"type": "linear", "domain": [0, 0.6], "range": [9, 64.5]}}}},
{"transform": [{"flatten": ["rings"], "as": ["ring"]}, {"filter": "datum.ring === 0.6"}], "mark": {"type": "arc", "filled": false, "stroke": "#7ed97e", "strokeWidth": 1.3, "theta": 0, "theta2": 6.2832}, "encoding": {"radius": {"field": "ring", "type": "quantitative", "stack": null, "scale": {"type": "linear", "domain": [0, 0.6], "range": [9, 64.5]}}}},
{"transform": [{"fold": ["N","NE","E","SE","S","SW","W","NW"], "as": ["dir","pct"]}, {"lookup": "dir", "from": {"data": {"name": "compass"}, "key": "dir", "fields": ["angle"]}}], "mark": {"type": "arc", "filled": false, "stroke": "#7ed97e", "strokeWidth": 1.3, "radius": 83, "radius2": 64.5}, "encoding": {"theta": {"field": "angle", "type": "quantitative", "stack": null, "scale": {"type": "linear", "domain": [0, 360], "range": [0, 6.283185]}}, "theta2": {"field": "angle"}}},
{"transform": [{"flatten": ["rings"], "as": ["ring"]}, {"filter": "datum.ring === 0"}], "mark": {"type": "arc", "filled": false, "stroke": "#222222", "strokeWidth": 0.8, "strokeDash": [2, 1.2], "theta": 0, "theta2": 6.2832}, "encoding": {"radius": {"field": "ring", "type": "quantitative", "stack": null, "scale": {"type": "linear", "domain": [0, 0.6], "range": [9, 64.5]}}}},
{"transform": [{"fold": ["N","NE","E","SE","S","SW","W","NW"], "as": ["dir","pct"]}, {"lookup": "dir", "from": {"data": {"name": "compass"}, "key": "dir", "fields": ["angle"]}}, {"filter": "datum.pct > 0"}], "mark": {"type": "arc", "filled": false, "stroke": "#111111", "strokeWidth": 7, "radiusOffset": 1, "radius2Offset": -1}, "encoding": {"theta": {"field": "angle", "type": "quantitative", "stack": null, "scale": {"type": "linear", "domain": [0, 360], "range": [0, 6.283185]}}, "theta2": {"field": "angle"}, "radius": {"field": "pct", "type": "quantitative", "stack": null, "scale": {"type": "linear", "domain": [0, 0.6], "range": [9, 64.5]}}, "radius2": {"datum": 0}}},
{"transform": [{"fold": ["N","NE","E","SE","S","SW","W","NW"], "as": ["dir","pct"]}, {"lookup": "dir", "from": {"data": {"name": "compass"}, "key": "dir", "fields": ["angle"]}}, {"filter": "datum.pct > 0"}], "mark": {"type": "arc", "filled": false, "strokeWidth": 5}, "encoding": {"theta": {"field": "angle", "type": "quantitative", "stack": null, "scale": {"type": "linear", "domain": [0, 360], "range": [0, 6.283185]}}, "theta2": {"field": "angle"}, "radius": {"field": "pct", "type": "quantitative", "stack": null, "scale": {"type": "linear", "domain": [0, 0.6], "range": [9, 64.5]}}, "radius2": {"datum": 0}, "stroke": {"condition": {"test": "datum.dir === 'NW'", "value": "#dd1111"}, "value": "#ffffff"}}},
{"transform": [{"flatten": ["rings"], "as": ["ring"]}], "mark": {"type": "text", "theta": 0, "align": "left", "baseline": "bottom", "dx": 1, "fontSize": 8, "font": "DejaVu Sans", "color": "#333333"}, "encoding": {"radius": {"field": "ring", "type": "quantitative", "stack": null, "scale": {"type": "linear", "domain": [0, 0.6], "range": [9, 64.5]}}, "text": {"field": "ring", "type": "quantitative", "format": ".0%"}}},
{"transform": [{"fold": ["N","NE","E","SE","S","SW","W","NW"], "as": ["dir","pct"]}, {"lookup": "dir", "from": {"data": {"name": "compass"}, "key": "dir", "fields": ["angle"]}}], "mark": {"type": "text", "radius": 92, "align": "center", "baseline": "middle", "fontSize": 10, "font": "DejaVu Sans", "color": "#111111"}, "encoding": {"theta": {"field": "angle", "type": "quantitative", "stack": null, "scale": {"type": "linear", "domain": [0, 360], "range": [0, 6.283185]}}, "text": {"field": "dir"}}},
{"transform": [{"fold": ["N","NE","E","SE","S","SW","W","NW"], "as": ["dir","pct"]}, {"lookup": "dir", "from": {"data": {"name": "compass"}, "key": "dir", "fields": ["angle"]}}, {"filter": "datum.dir === 'NW'"}], "mark": {"type": "text", "align": "right", "baseline": "middle", "dx": -3, "dy": 0, "fontSize": 8, "font": "DejaVu Sans", "color": "#111111"}, "encoding": {"theta": {"field": "angle", "type": "quantitative", "stack": null, "scale": {"type": "linear", "domain": [0, 360], "range": [0, 6.283185]}}, "radius": {"field": "pct", "type": "quantitative", "stack": null, "scale": {"type": "linear", "domain": [0, 0.6], "range": [9, 64.5]}}, "text": {"field": "nw_label"}}},
{"mark": {"type": "text", "text": "STATION : KENGTUNG", "dx": 7, "dy": -121, "fontSize": 8, "font": "DejaVu Sans", "color": "#111111"}},
{"mark": {"type": "text", "dx": 8, "dy": -107, "fontSize": 8, "font": "DejaVu Sans", "color": "#111111"}, "encoding": {"text": {"field": "title"}}},
{"mark": {"type": "text", "align": "left", "dx": 15, "dy": 77, "fontSize": 8, "font": "DejaVu Sans", "color": "#111111"}, "encoding": {"text": {"field": "calm_label"}}},
{"mark": {"type": "text", "text": "CALM", "dy": -2, "fontSize": 4.5, "font": "DejaVu Sans", "color": "#444444"}},
{"mark": {"type": "text", "dy": 3, "fontSize": 4.5, "font": "DejaVu Sans", "color": "#444444"}, "encoding": {"text": {"field": "calm"}}}
]}
]
},
{"vconcat": [
{
"width": 480, "height": 53,
"data": {"name": "table_header"},
"encoding": {"x": {"field": "column", "type": "nominal", "axis": null, "scale": {"domain": ["climate","wind"], "paddingInner": 0, "paddingOuter": 0}}},
"layer": [
{"mark": {"type": "rect", "color": "#cdb36c", "stroke": "white", "strokeWidth": 2}},
{"mark": {"type": "text", "font": "DejaVu Serif", "fontWeight": "bold", "fontSize": 17.5, "color": "#111111"}, "encoding": {"text": {"field": "label"}}}
]
},
{
"width": 480, "height": 601,
"data": {"name": "table"},
"transform": [
{"stack": "lines", "groupby": [], "sort": [{"field": "row", "order": "ascending"}], "as": ["top", "bottom"]},
{"fold": ["climate", "wind"], "as": ["column", "text"]}
],
"encoding": {
"x": {"field": "column", "type": "nominal", "axis": null, "scale": {"domain": ["climate","wind"], "paddingInner": 0, "paddingOuter": 0}},
"y": {"field": "top", "type": "quantitative", "axis": null, "stack": null, "scale": {"domain": [0, 20], "reverse": true, "nice": false}}
},
"layer": [
{"mark": {"type": "rect", "stroke": "white", "strokeWidth": 2}, "encoding": {"y2": {"field": "bottom"}, "color": {"field": "row", "type": "ordinal", "legend": null, "scale": {"domain": [1,2,3,4,5,6,7,8,9,10,11,12,13,14,15], "range": ["#e9dfc2","#f5f1e5","#e9dfc2","#f5f1e5","#e9dfc2","#f5f1e5","#e9dfc2","#f5f1e5","#e9dfc2","#f5f1e5","#e9dfc2","#f5f1e5","#e9dfc2","#f5f1e5","#e9dfc2"]}}}},
{"transform": [{"filter": "datum.column === 'climate'"}], "mark": {"type": "rule", "stroke": "#8c8c8c", "strokeWidth": 3, "xOffset": 1.5, "yOffset": 1}, "encoding": {"x": {"field": "column", "type": "nominal", "bandPosition": 0}, "y2": {"field": "bottom"}}},
{"transform": [{"filter": "datum.column === 'climate'"}], "mark": {"type": "text", "align": "left", "baseline": "top", "dx": 4, "dy": 6, "font": "Liberation Sans", "fontWeight": "bold", "fontSize": 18, "color": "#111111"}, "encoding": {"x": {"field": "column", "type": "nominal", "bandPosition": 0}, "text": {"field": "text"}}},
{"transform": [{"filter": "datum.column === 'wind'"}], "mark": {"type": "text", "align": "center", "baseline": "top", "dy": 6, "font": "DejaVu Serif", "fontWeight": "bold", "fontSize": 16, "lineHeight": 24, "color": "#1a1a1a"}, "encoding": {"text": {"field": "text"}}}
]
}
], "spacing": 2}
], "spacing": 13.25}
]
}
